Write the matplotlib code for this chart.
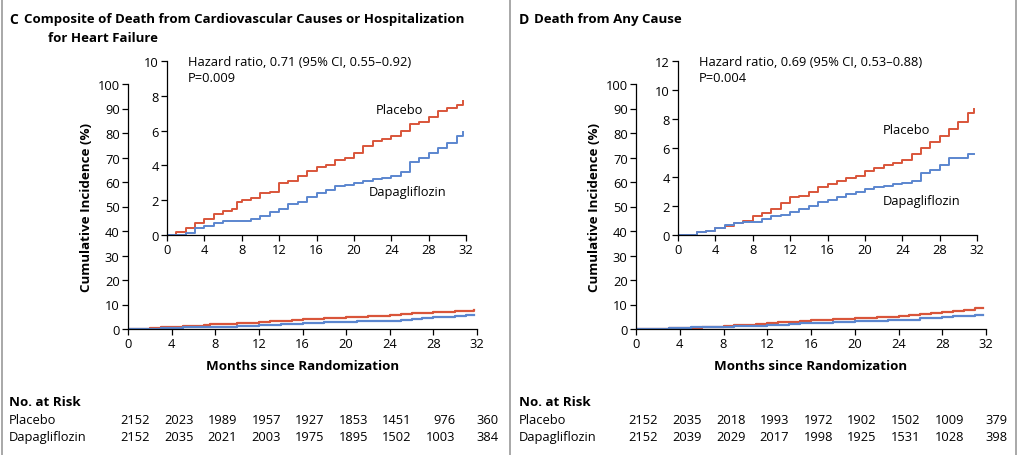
import numpy as np
import matplotlib.pyplot as plt
import matplotlib.transforms as mtransforms
from matplotlib.lines import Line2D

RED = '#d9553a'
BLUE = '#5b86cf'

# panel C: composite of CV death / HF hospitalization
c_plac_t = [0, 0.5, 1, 2, 3, 4, 5, 6, 7, 7.5, 8, 9, 10, 11, 12, 13, 14, 15, 16, 17, 18, 19, 20, 21, 22, 23, 24, 25, 26, 27, 28, 29, 30, 31, 31.7]
c_plac_y = [0, 0, 0.2, 0.4, 0.7, 0.9, 1.2, 1.4, 1.5, 1.9, 2.0, 2.1, 2.4, 2.5, 3.0, 3.1, 3.4, 3.7, 3.9, 4.0, 4.3, 4.4, 4.7, 5.1, 5.4, 5.5, 5.7, 6.0, 6.4, 6.5, 6.8, 7.1, 7.3, 7.5, 7.7]
c_dapa_t = [0, 1, 2, 3, 4, 5, 6, 8, 9, 10, 11, 12, 13, 14, 15, 16, 17, 18, 19, 20, 21, 22, 23, 24, 25, 26, 27, 28, 29, 30, 31, 31.7]
c_dapa_y = [0, 0, 0.1, 0.4, 0.5, 0.7, 0.8, 0.8, 0.9, 1.1, 1.3, 1.5, 1.8, 1.9, 2.2, 2.4, 2.6, 2.8, 2.9, 3.0, 3.1, 3.2, 3.3, 3.4, 3.6, 4.2, 4.4, 4.7, 5.0, 5.3, 5.7, 5.9]

# panel D: death from any cause
d_plac_t = [0, 1, 2, 3, 4, 5, 6, 7, 8, 9, 10, 11, 12, 13, 14, 15, 16, 17, 18, 19, 20, 21, 22, 23, 24, 25, 26, 27, 28, 29, 30, 31, 31.7]
d_plac_y = [0, 0, 0.2, 0.3, 0.5, 0.6, 0.8, 1.0, 1.3, 1.5, 1.8, 2.2, 2.6, 2.7, 3.0, 3.3, 3.5, 3.7, 3.9, 4.1, 4.4, 4.6, 4.8, 5.0, 5.2, 5.6, 6.0, 6.4, 6.8, 7.3, 7.8, 8.4, 8.7]
d_dapa_t = [0, 1, 2, 3, 4, 5, 6, 7, 8, 9, 10, 11, 12, 13, 14, 15, 16, 17, 18, 19, 20, 21, 22, 23, 24, 25, 26, 27, 28, 29, 30, 31, 31.7]
d_dapa_y = [0, 0, 0.2, 0.3, 0.5, 0.7, 0.8, 0.9, 0.9, 1.1, 1.3, 1.4, 1.6, 1.8, 2.0, 2.3, 2.4, 2.6, 2.8, 3.0, 3.2, 3.3, 3.4, 3.5, 3.6, 3.7, 4.3, 4.5, 4.8, 5.3, 5.3, 5.6, 5.6]

risk_months = [0, 4, 8, 12, 16, 20, 24, 28, 32]
c_risk_plac = [2152, 2023, 1989, 1957, 1927, 1853, 1451, 976, 360]
c_risk_dapa = [2152, 2035, 2021, 2003, 1975, 1895, 1502, 1003, 384]
d_risk_plac = [2152, 2035, 2018, 1993, 1972, 1902, 1502, 1009, 379]
d_risk_dapa = [2152, 2039, 2029, 2017, 1998, 1925, 1531, 1028, 398]

plt.rcParams['font.family'] = 'Open Sans'
FS = 9.3

W, H = 1019, 456
fig = plt.figure(figsize=(W / 100, H / 100), dpi=100)

def px(x0, y0, x1, y1):
    return [x0 / W, 1 - y1 / H, (x1 - x0) / W, (y1 - y0) / H]

def style(ax):
    for s in ['top', 'right']:
        ax.spines[s].set_visible(False)
    for s in ['left', 'bottom']:
        ax.spines[s].set_linewidth(0.9)
    ax.tick_params(length=4, width=0.9, pad=2, labelsize=FS)
    ax.patch.set_alpha(0)

panels = [
    dict(x0=128, x1=477, ix0=167, ix1=466, ymax=10, yticks=range(0, 11, 2),
         plac=(c_plac_t, c_plac_y), dapa=(c_dapa_t, c_dapa_y),
         hr='Hazard ratio, 0.71 (95% CI, 0.55\u20130.92)\nP=0.009',
         lp=(24.9, 7.2), ld=(25.7, 2.5), risk=(c_risk_plac, c_risk_dapa),
         letter='C', title='Composite of Death from Cardiovascular Causes or Hospitalization\nfor Heart Failure', fx=9),
    dict(x0=636, x1=986, ix0=678, ix1=977, ymax=12, yticks=range(0, 13, 2),
         plac=(d_plac_t, d_plac_y), dapa=(d_dapa_t, d_dapa_y),
         hr='Hazard ratio, 0.69 (95% CI, 0.53\u20130.88)\nP=0.004',
         lp=(24.5, 7.3), ld=(26.1, 2.4), risk=(d_risk_plac, d_risk_dapa),
         letter='D', title='Death from Any Cause', fx=519),
]

for p in panels:
    ax = fig.add_axes(px(p['x0'], 85, p['x1'], 330))
    style(ax)
    ax.step(p['plac'][0], p['plac'][1], where='post', color=RED, lw=1.6)
    ax.step(p['dapa'][0], p['dapa'][1], where='post', color=BLUE, lw=1.6)
    ax.set_xlim(0, 32)
    ax.set_ylim(0, 100)
    ax.set_xticks(range(0, 33, 4))
    ax.set_yticks(range(0, 101, 10))
    ax.set_xlabel('Months since Randomization', fontweight='bold', fontsize=FS + 0.3, labelpad=6)
    ax.set_ylabel('Cumulative Incidence (%)', fontweight='bold', fontsize=FS + 0.3, labelpad=3)

    ins = fig.add_axes(px(p['ix0'], 62, p['ix1'], 236))
    style(ins)
    ins.step(p['plac'][0], p['plac'][1], where='post', color=RED, lw=1.4)
    ins.step(p['dapa'][0], p['dapa'][1], where='post', color=BLUE, lw=1.4)
    ins.set_xlim(0, 32)
    ins.set_ylim(0, p['ymax'])
    ins.set_xticks(range(0, 33, 4))
    ins.set_yticks(list(p['yticks']))
    ins.text(2.2, p['ymax'] * 1.035, p['hr'], va='top', ha='left', fontsize=FS, linespacing=1.3)
    ins.text(*p['lp'], 'Placebo', ha='center', va='center', fontsize=FS)
    ins.text(*p['ld'], 'Dapagliflozin', ha='center', va='center', fontsize=FS)

    # title
    fig.text(p['fx'] / W, 1 - 20 / H, p['letter'], fontweight='bold', fontsize=10, va='center')
    lines = p['title'].split('\n')
    fig.text((p['fx'] + 15) / W, 1 - 20 / H, lines[0], fontweight='bold', fontsize=FS + 0.2, va='center')
    if len(lines) > 1:
        fig.text((p['fx'] + 39) / W, 1 - 38 / H, lines[1], fontweight='bold', fontsize=FS + 0.2, va='center')

    # number at risk
    fig.text(p['fx'] / W, 1 - 403 / H, 'No. at Risk', fontweight='bold', fontsize=FS + 0.3, va='center')
    for name, vals, yy in [('Placebo', p['risk'][0], 421), ('Dapagliflozin', p['risk'][1], 438)]:
        fig.text(p['fx'] / W, 1 - yy / H, name, fontsize=FS, va='center')
        tr = mtransforms.blended_transform_factory(ax.transData, fig.transFigure)
        tr = tr + mtransforms.ScaledTranslation(22 / 100, 0, fig.dpi_scale_trans)
        for m, v in zip(risk_months, vals):
            fig.text(m, 1 - yy / H, str(v), transform=tr, ha='right', va='center', fontsize=FS)

# panel frames
for xx in [2 / W, 510 / W, 1016 / W]:
    fig.add_artist(Line2D([xx, xx], [0, 1], color='#999999', lw=1.2))

fig.savefig('out.png', dpi=100)
